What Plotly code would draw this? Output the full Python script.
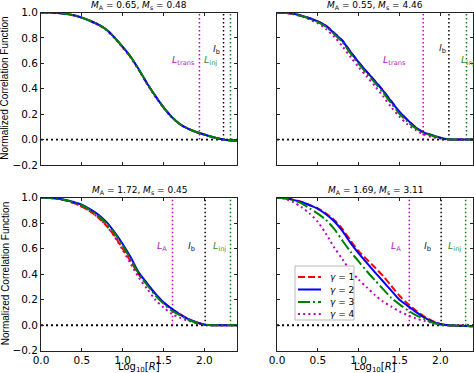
import plotly.graph_objects as go
from plotly.subplots import make_subplots

# ---------------- data ----------------
R = [0.0, 0.1, 0.2, 0.3, 0.4, 0.5, 0.6, 0.7, 0.8, 0.9, 1.0, 1.1, 1.2,
     1.3, 1.4, 1.5, 1.6, 1.7, 1.8, 1.9, 2.0, 2.1, 2.2, 2.3, 2.4]

# top-left: M_A = 0.65, M_s = 0.48
tl_g1 = [1.0, 1.0, 0.997, 0.99, 0.978, 0.96, 0.935, 0.905, 0.865, 0.802, 0.728, 0.648, 0.548,
         0.44, 0.343, 0.254, 0.178, 0.122, 0.086, 0.06, 0.04, 0.02, 0.005, -0.005, -0.01]
tl_g2 = [1.0, 1.0, 0.997, 0.99, 0.978, 0.96, 0.935, 0.906, 0.866, 0.804, 0.73, 0.65, 0.55,
         0.442, 0.344, 0.255, 0.179, 0.123, 0.086, 0.06, 0.04, 0.02, 0.005, -0.005, -0.01]
tl_g3 = [1.0, 1.0, 0.997, 0.99, 0.978, 0.96, 0.935, 0.906, 0.866, 0.803, 0.729, 0.649, 0.549,
         0.441, 0.343, 0.254, 0.178, 0.122, 0.086, 0.06, 0.04, 0.02, 0.005, -0.005, -0.01]
tl_g4 = [1.0, 1.0, 0.997, 0.99, 0.977, 0.958, 0.932, 0.902, 0.861, 0.798, 0.723, 0.643, 0.543,
         0.436, 0.338, 0.25, 0.175, 0.12, 0.084, 0.058, 0.038, 0.019, 0.004, -0.005, -0.01]

# top-right: M_A = 0.55, M_s = 4.46
tr_g1 = [1.0, 0.998, 0.99, 0.975, 0.955, 0.93, 0.896, 0.84, 0.781, 0.692, 0.61, 0.534, 0.462,
         0.386, 0.302, 0.218, 0.154, 0.096, 0.056, 0.035, 0.015, 0.003, 0.0, 0.0, 0.0]
tr_g2 = [1.0, 0.998, 0.99, 0.975, 0.955, 0.93, 0.895, 0.837, 0.778, 0.69, 0.608, 0.533, 0.46,
         0.383, 0.3, 0.217, 0.153, 0.095, 0.055, 0.035, 0.015, 0.003, 0.0, 0.0, 0.0]
tr_g3 = [1.0, 0.998, 0.989, 0.973, 0.952, 0.925, 0.888, 0.83, 0.768, 0.678, 0.597, 0.518, 0.447,
         0.37, 0.285, 0.203, 0.14, 0.088, 0.052, 0.03, 0.012, 0.002, 0.0, 0.0, 0.0]
tr_g4 = [1.0, 0.997, 0.987, 0.97, 0.945, 0.915, 0.87, 0.81, 0.735, 0.65, 0.57, 0.495, 0.42,
         0.34, 0.255, 0.18, 0.12, 0.075, 0.04, 0.02, 0.008, 0.0, 0.0, 0.0, 0.0]

# bottom-left: M_A = 1.72, M_s = 0.45
bl_g1 = [1.0, 0.997, 0.99, 0.977, 0.957, 0.93, 0.893, 0.845, 0.78, 0.7, 0.6, 0.5, 0.395,
         0.32, 0.245, 0.178, 0.125, 0.088, 0.05, 0.025, 0.005, 0.0, 0.0, 0.0, 0.0]
bl_g2 = [1.0, 0.998, 0.993, 0.982, 0.965, 0.945, 0.91, 0.868, 0.81, 0.73, 0.637, 0.53, 0.41,
         0.328, 0.248, 0.18, 0.13, 0.086, 0.05, 0.025, 0.005, 0.0, 0.0, 0.0, 0.0]
bl_g3 = [1.0, 0.998, 0.992, 0.98, 0.962, 0.94, 0.903, 0.857, 0.8, 0.722, 0.625, 0.515, 0.4,
         0.315, 0.235, 0.17, 0.115, 0.08, 0.045, 0.02, 0.005, 0.0, 0.0, 0.0, 0.0]
bl_g4 = [1.0, 0.997, 0.99, 0.977, 0.957, 0.93, 0.893, 0.845, 0.78, 0.695, 0.59, 0.48, 0.37,
         0.285, 0.2, 0.14, 0.09, 0.06, 0.035, 0.018, 0.005, 0.0, 0.0, 0.0, 0.0]

# bottom-right: M_A = 1.69, M_s = 3.11
br_g1 = [1.0, 0.995, 0.983, 0.966, 0.942, 0.915, 0.875, 0.825, 0.755, 0.664, 0.58, 0.516, 0.452,
         0.385, 0.308, 0.231, 0.168, 0.116, 0.07, 0.035, 0.01, 0.0, -0.003, -0.005, -0.008]
br_g2 = [1.0, 0.995, 0.982, 0.965, 0.94, 0.912, 0.87, 0.815, 0.74, 0.645, 0.563, 0.489, 0.415,
         0.343, 0.271, 0.2, 0.152, 0.105, 0.062, 0.03, 0.01, 0.0, -0.003, -0.005, -0.008]
br_g3 = [1.0, 0.993, 0.978, 0.955, 0.915, 0.875, 0.825, 0.755, 0.664, 0.577, 0.5, 0.423, 0.352,
         0.283, 0.214, 0.164, 0.118, 0.08, 0.05, 0.022, 0.005, 0.0, -0.003, -0.005, -0.008]
br_g4 = [1.0, 0.99, 0.965, 0.925, 0.875, 0.81, 0.716, 0.61, 0.518, 0.427, 0.358, 0.297, 0.236,
         0.185, 0.146, 0.108, 0.079, 0.053, 0.035, 0.02, 0.005, 0.0, -0.003, -0.005, -0.008]

panel_titles = ["<i>M</i><sub>A</sub> = 0.65, <i>M</i><sub>s</sub> = 0.48",
                "<i>M</i><sub>A</sub> = 0.55, <i>M</i><sub>s</sub> = 4.46",
                "<i>M</i><sub>A</sub> = 1.72, <i>M</i><sub>s</sub> = 0.45",
                "<i>M</i><sub>A</sub> = 1.69, <i>M</i><sub>s</sub> = 3.11"]

# characteristic scales (x positions of vertical lines): [magenta, black, green]
vlines_tl = [1.94, 2.235, 2.32]
vlines_tr = [1.79, 2.105, 2.32]
vlines_bl = [1.61, 2.01, 2.32]
vlines_br = [1.62, 2.01, 2.31]

first_label = ["<i>L</i><sub>trans</sub>", "<i>L</i><sub>trans</sub>",
               "<i>L</i><sub>A</sub>", "<i>L</i><sub>A</sub>"]
# label positions [x, y] for first label, l_b, L_inj
labels_tl = [[1.74, 0.62], [2.15, 0.71], [2.08, 0.62]]
labels_tr = [[1.44, 0.62], [2.03, 0.72], [2.33, 0.62]]
labels_bl = [[1.48, 0.62], [1.84, 0.62], [2.18, 0.62]]
labels_br = [[1.46, 0.62], [1.84, 0.62], [2.17, 0.62]]

gamma_names = ["<i>γ</i> = 1", "<i>γ</i> = 2", "<i>γ</i> = 3", "<i>γ</i> = 4"]
x_ticks = [0.0, 0.5, 1.0, 1.5, 2.0]
x_ticktext = ["0.0", "0.5", "1.0", "1.5", "2.0"]
y_ticks = [-0.2, 0.0, 0.2, 0.4, 0.6, 0.8, 1.0]
y_ticktext = ["\u22120.2", "0.0", "0.2", "0.4", "0.6", "0.8", "1.0"]

# ---------------- styles ----------------
FONT = "DejaVu Sans"
styles = [dict(color="#ff0000", dash="7px,3px", width=2),
          dict(color="#0000ff", dash="solid", width=2),
          dict(color="#008000", dash="12px,3px,2px,3px", width=2),
          dict(color="#bf00bf", dash="2px,3.2px", width=2)]
VDOT = "1.6px,2.4px"
vcolors = ["#bf00bf", "#000000", "#008000"]
lcolors = ["#b020c0", "#111111", "#2a922a"]

W, H = 474, 373
xdom = [[41 / W, 237 / W], [277 / W, 473 / W]]
ydom = [[(H - 165) / H, (H - 12.5) / H], [(H - 350.8) / H, (H - 197.6) / H]]

fig = make_subplots(rows=2, cols=2)

panels = [
    (1, 1, [tl_g1, tl_g2, tl_g3, tl_g4], vlines_tl, labels_tl),
    (1, 2, [tr_g1, tr_g2, tr_g3, tr_g4], vlines_tr, labels_tr),
    (2, 1, [bl_g1, bl_g2, bl_g3, bl_g4], vlines_bl, labels_bl),
    (2, 2, [br_g1, br_g2, br_g3, br_g4], vlines_br, labels_br),
]
draw_order = [3, 0, 1, 2]  # magenta under, green on top

for pi, (r, c, series, vl, labs) in enumerate(panels):
    fig.add_trace(go.Scatter(x=[R[0], R[-1]], y=[0, 0], mode="lines",
                             line=dict(color="black", dash="2px,3px", width=1.8),
                             showlegend=False, hoverinfo="skip"), row=r, col=c)
    for k, xv in enumerate(vl):
        fig.add_trace(go.Scatter(x=[xv, xv], y=[0, 1.0], mode="lines",
                                 line=dict(color=vcolors[k], dash=VDOT, width=1.5),
                                 showlegend=False, hoverinfo="skip"), row=r, col=c)
    for g in draw_order:
        fig.add_trace(go.Scatter(x=R, y=series[g], mode="lines",
                                 line=dict(shape="spline", smoothing=0.8, **styles[g]),
                                 name=gamma_names[g].replace("<i>", "").replace("</i>", ""),
                                 showlegend=False), row=r, col=c)
    axn = "" if pi == 0 else str(pi + 1)
    texts = [first_label[pi], "<i>l</i><sub>b</sub>", "<i>L</i><sub>inj</sub>"]
    for k in range(3):
        fig.add_annotation(x=labs[k][0], y=labs[k][1], xref="x" + axn, yref="y" + axn,
                           text=texts[k], showarrow=False, xanchor="center",
                           font=dict(family=FONT, size=9.5, color=lcolors[k]))

for pi in range(4):
    r, c = divmod(pi, 2)
    axn = "" if pi == 0 else str(pi + 1)
    common = dict(showline=True, mirror="ticks", linecolor="#222222", linewidth=1,
                  ticks="inside", ticklen=3, tickcolor="#222222", showgrid=False,
                  zeroline=False, automargin=False,
                  tickfont=dict(family=FONT, size=10.5, color="black"))
    fig.layout["xaxis" + axn].update(domain=xdom[c], range=[0, 2.4],
                                    tickvals=x_ticks, ticktext=x_ticktext,
                                    showticklabels=(r == 1), **common)
    fig.layout["yaxis" + axn].update(domain=ydom[r], range=[-0.2, 1.0],
                                    tickvals=y_ticks, ticktext=y_ticktext,
                                    showticklabels=(c == 0), **common)
    title_y = [5.5, 190.5][r]
    fig.add_annotation(x=(xdom[c][0] + xdom[c][1]) / 2, y=(H - title_y) / H, xref="paper", yref="paper",
                       xanchor="center", yanchor="middle", text=panel_titles[pi], showarrow=False,
                       font=dict(family=FONT, size=9, color="black"))

for r in range(2):
    fig.add_annotation(x=5 / W, y=(ydom[r][0] + ydom[r][1]) / 2, xref="paper", yref="paper",
                       text="Normalized Correlation Function", textangle=-90, showarrow=False,
                       xanchor="center", yanchor="middle",
                       font=dict(family="Liberation Sans", size=10, color="black"))
for c in range(2):
    fig.add_annotation(x=(xdom[c][0] + xdom[c][1]) / 2, y=(H - 367.5) / H, xref="paper", yref="paper",
                       text="Log<sub>10</sub>[<i>R</i>]", showarrow=False, borderpad=0,
                       xanchor="center", yanchor="middle", font=dict(family=FONT, size=10, color="black"))

# ---- legend drawn inside the bottom-right panel ----
leg_box = [295, 266, 354, 320]  # pixel box (left, top, right, bottom)
fig.add_shape(type="rect", xref="paper", yref="paper",
              x0=leg_box[0] / W, x1=leg_box[2] / W, y0=(H - leg_box[3]) / H, y1=(H - leg_box[1]) / H,
              line=dict(color="#b8b8b8", width=1), fillcolor="rgba(255,255,255,0.85)", layer="above")
leg_rows = [277, 289.5, 302, 314]
for g in range(4):
    yy = (H - leg_rows[g]) / H
    fig.add_shape(type="line", xref="paper", yref="paper", x0=298 / W, x1=321 / W, y0=yy, y1=yy,
                  line=dict(color=styles[g]["color"], dash=styles[g]["dash"], width=2), layer="above")
    fig.add_annotation(x=328 / W, y=yy, xref="paper", yref="paper", xanchor="left",
                       yanchor="middle", text=gamma_names[g], showarrow=False,
                       font=dict(family=FONT, size=9, color="black"))

fig.update_layout(
    width=W, height=H, margin=dict(l=0, r=0, t=0, b=0, autoexpand=False),
    paper_bgcolor="white", plot_bgcolor="white", showlegend=False,
)

fig.write_html("out.html", config={"displayModeBar": False},
               post_script="document.body.style.margin='0';")
